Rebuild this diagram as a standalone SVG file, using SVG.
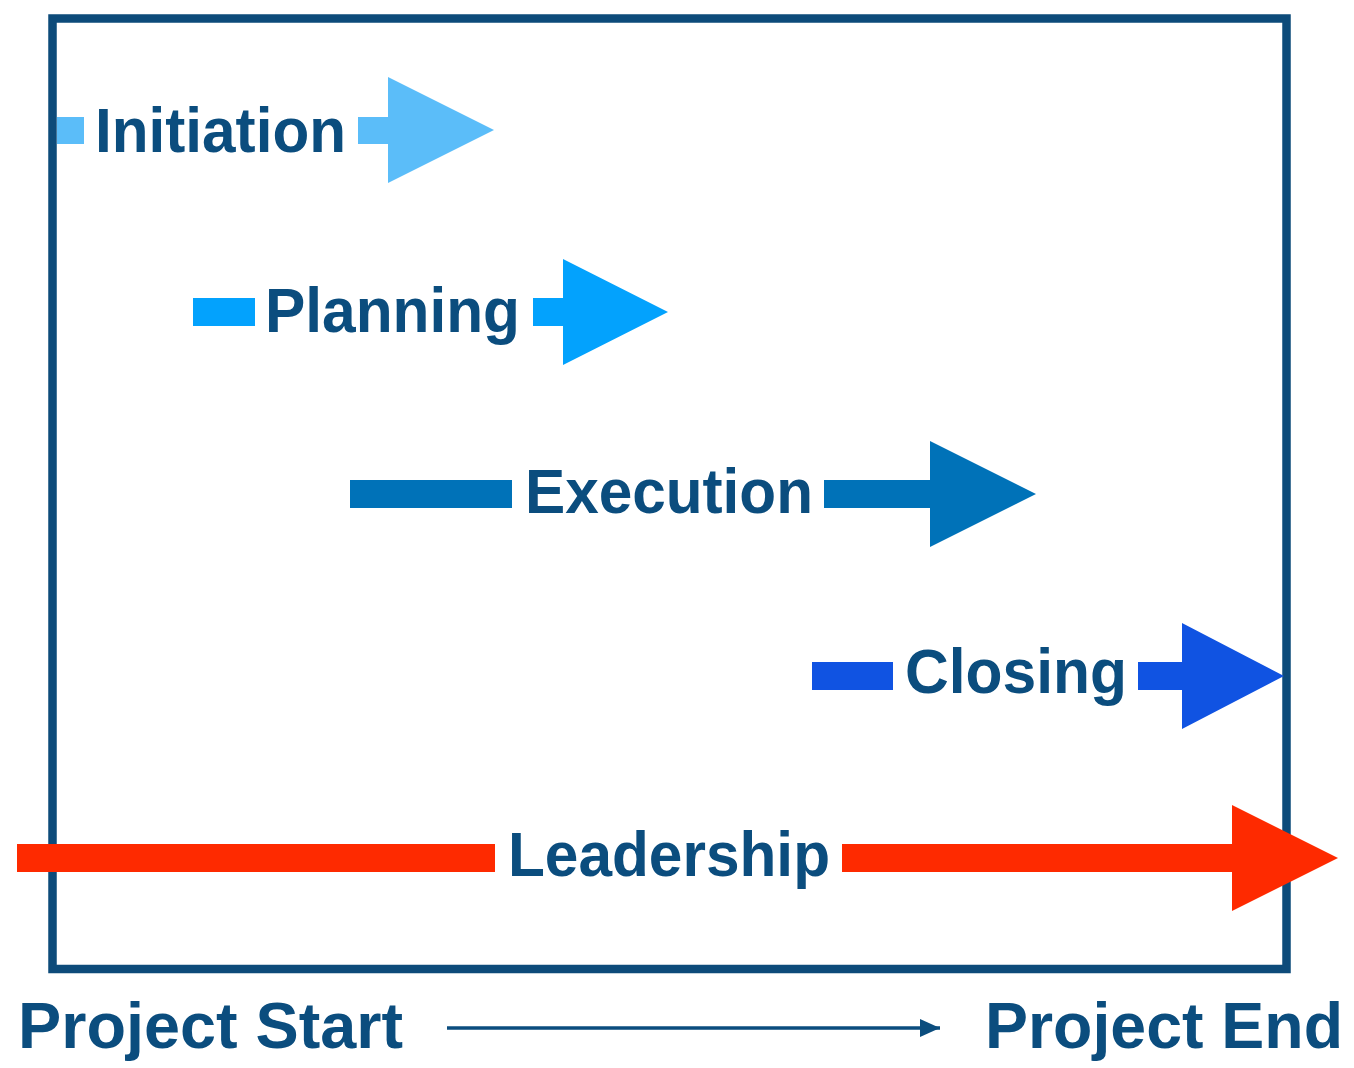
<svg xmlns="http://www.w3.org/2000/svg" width="1354" height="1068" viewBox="0 0 1354 1068">
<defs>
<style>
.lbl{font-family:"Liberation Sans",Arial,Helvetica,sans-serif;font-weight:bold;fill:#0b4d7e;font-size:63px}
.big{font-size:64px}
</style>
<marker id="ah" viewBox="0 0 20 18" refX="20" refY="9" markerWidth="20" markerHeight="18" markerUnits="userSpaceOnUse" orient="auto">
<path d="M0,0 L20,9 L0,18 Z" fill="#0b4d7e"/>
</marker>
</defs>
<rect x="0" y="0" width="1354" height="1068" fill="#ffffff"/>
<g id="frame">
<rect x="52.5" y="18.5" width="1234" height="950.5" fill="none" stroke="#0d4b7a" stroke-width="8.5"/>
</g>
<g id="initiation">
<rect x="57" y="117" width="27" height="27" fill="#5bbdf9"/>
<text class="lbl" x="95" y="152" textLength="251" lengthAdjust="spacingAndGlyphs">Initiation</text>
<polygon points="358,117 388,117 388,77 494,130 388,183 388,144 358,144" fill="#5bbdf9"/>
</g>
<g id="planning">
<rect x="193" y="298" width="62" height="28" fill="#03a2fd"/>
<text class="lbl" x="265" y="332" textLength="255" lengthAdjust="spacingAndGlyphs">Planning</text>
<polygon points="533,298 563,298 563,259 668,312 563,365 563,326 533,326" fill="#03a2fd"/>
</g>
<g id="execution">
<rect x="350" y="480" width="162" height="28" fill="#0072b8"/>
<text class="lbl" x="525" y="513" textLength="288" lengthAdjust="spacingAndGlyphs">Execution</text>
<polygon points="824,480 930,480 930,441 1036,494 930,547 930,508 824,508" fill="#0072b8"/>
</g>
<g id="closing">
<rect x="812" y="662" width="81" height="28" fill="#1053e2"/>
<text class="lbl" x="905" y="693" textLength="222" lengthAdjust="spacingAndGlyphs">Closing</text>
<polygon points="1138,662 1182,662 1182,623 1284,676 1182,729 1182,690 1138,690" fill="#1053e2"/>
</g>
<g id="leadership">
<rect x="17" y="844" width="478" height="28" fill="#fe2a00"/>
<text class="lbl" x="508" y="876" textLength="322" lengthAdjust="spacingAndGlyphs">Leadership</text>
<polygon points="842,844 1232,844 1232,805 1338,858 1232,911 1232,872 842,872" fill="#fe2a00"/>
</g>
<g id="project-start">
<text class="lbl big" x="18" y="1048" textLength="385" lengthAdjust="spacingAndGlyphs">Project Start</text>
</g>
<g id="project-end">
<text class="lbl big" x="985" y="1048" textLength="358" lengthAdjust="spacingAndGlyphs">Project End</text>
</g>
<g id="connectors">
<line x1="447" y1="1028" x2="940" y2="1028" stroke="#0b4d7e" stroke-width="3.5" marker-end="url(#ah)"/>
</g>
</svg>
